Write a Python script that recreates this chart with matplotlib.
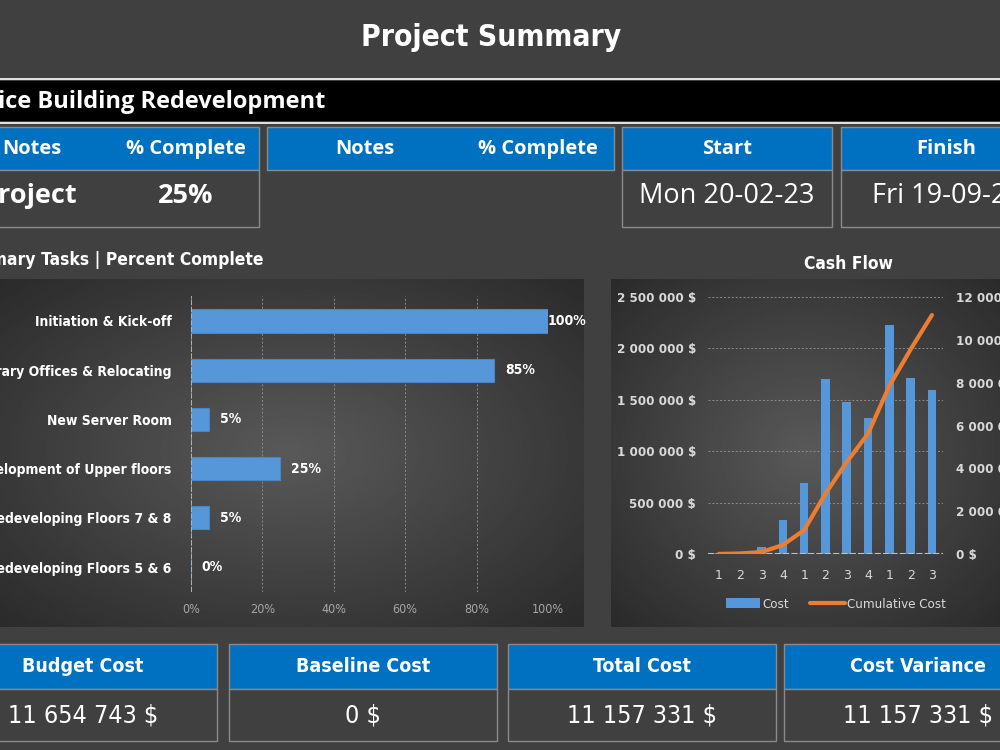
import numpy as np
import matplotlib.pyplot as plt
from matplotlib.patches import Rectangle
from matplotlib.ticker import FuncFormatter

# --- data ---
project_name = "Office Building Redevelopment"
pct_complete = "25%"
start_date = "Mon 20-02-23"
finish_date = "Fri 19-09-25"

tasks = ["Initiation & Kick-off", "Temporary Offices & Relocating", "New Server Room",
         "Redevelopment of Upper floors", "Redeveloping Floors 7 & 8",
         "Redeveloping Floors 5 & 6"]
task_pct = [1.00, 0.85, 0.05, 0.25, 0.05, 0.00]

quarters = ["1", "2", "3", "4", "1", "2", "3", "4", "1", "2", "3"]
cost = [5000, 20000, 65000, 330000, 695000, 1700000, 1480000, 1325000,
        2225000, 1712000, 1600000]
cum_cost = [5000, 25000, 90000, 420000, 1115000, 2815000, 4295000, 5620000,
            7845000, 9557000, 11157000]

cost_labels = ["Budget Cost", "Baseline Cost", "Total Cost", "Cost Variance"]
cost_values = ["11 654 743 $", "0 $", "11 157 331 $", "11 157 331 $"]

BG = '#404040'
BLUE = '#0070C0'
EDGE = '#8a8a8a'
NARROW = ['DejaVu Sans']
SEGOE = ['Open Sans', 'DejaVu Sans']
COND = 'condensed'

W, H = 1000, 750
fig = plt.figure(figsize=(10, 7.5), dpi=100, facecolor=BG)


def px(x0, y0, x1, y1):
    return [x0 / W, 1 - y1 / H, (x1 - x0) / W, (y1 - y0) / H]


# overlay in pixel coordinates
ov = fig.add_axes([0, 0, 1, 1], zorder=0)
ov.set_xlim(0, W)
ov.set_ylim(H, 0)
ov.axis('off')


def box(x0, y0, x1, y1, fc, ec=EDGE, lw=1.0, z=1):
    ov.add_patch(Rectangle((x0, y0), x1 - x0, y1 - y0, fc=fc, ec=ec, lw=lw, zorder=z))


def txt(x, y, s, size, weight='normal', ha='center', family=SEGOE, color='white',
        stretch='normal'):
    ov.text(x, y, s, fontsize=size, fontweight=weight, ha=ha, va='center',
            family=family, color=color, zorder=5, fontstretch=stretch)


# title
txt(491, 37, "Project Summary", 21.5, 'bold', family=NARROW, stretch=COND)

# project name band
ov.plot([0, W], [78.5, 78.5], color='white', lw=1.2, zorder=2)
box(-5, 81, W + 5, 121, 'black', ec='none')
ov.plot([0, W], [123, 123], color='white', lw=1.2, zorder=2)
txt(325, 102, project_name, 17, 'bold', ha='right')

# top info boxes
box(-5, 127, 259, 170, BLUE)
box(-5, 170, 259, 227, BG)
txt(32, 149, "Notes", 14.5, 'bold')
txt(186, 149, "% Complete", 14.5, 'bold')
txt(77, 196, "Project", 19.5, 'bold', ha='right')
txt(186, 196, pct_complete, 19.5, 'bold')

box(267, 127, 614, 170, BLUE)
txt(365, 149, "Notes", 14.5, 'bold')
txt(538, 149, "% Complete", 14.5, 'bold')

box(622, 127, 832, 170, BLUE)
box(622, 170, 832, 227, BG)
txt(727, 149, "Start", 14.5, 'bold')
txt(727, 196, start_date, 19.5)

box(841, 127, W + 5, 170, BLUE)
box(841, 170, W + 5, 227, BG)
txt(946, 149, "Finish", 14.5, 'bold')
txt(872, 196, finish_date, 19.5, ha='left')

# chart titles
txt(263, 260, "Summary Tasks | Percent Complete", 12.5, 'bold', ha='right',
    family=NARROW, stretch=COND)
txt(848, 264, "Cash Flow", 12.5, 'bold', family=NARROW, stretch=COND)


def gradient_panel(rect):
    ax = fig.add_axes(px(*rect), zorder=1)
    yy, xx = np.mgrid[-1:1:200j, -1:1:300j]
    r = np.sqrt(xx ** 2 + yy ** 2)
    shade = np.clip(0.35 - 0.13 * r, 0, 1)
    ax.imshow(shade, cmap='gray', vmin=0, vmax=1, aspect='auto',
              extent=[0, 1, 0, 1], interpolation='bilinear')
    ax.axis('off')
    return ax


gradient_panel((-5, 279, 584, 627))
gradient_panel((611, 279, W + 5, 627))

# --- percent complete bar chart ---
ax1 = fig.add_axes(px(191, 296.4, 548, 591.6), zorder=2)
ax1.patch.set_alpha(0)
ypos = np.arange(len(tasks))
ax1.barh(ypos, task_pct, height=0.47, color='#5597D9', edgecolor='#4a86c5', lw=0.8)
ax1.set_xlim(0, 1)
ax1.set_ylim(len(tasks) - 0.5, -0.5)
ax1.set_xticks(np.arange(0, 1.01, 0.2))
ax1.xaxis.set_major_formatter(FuncFormatter(lambda v, p: f"{v:.0%}"))
ax1.set_yticks(ypos)
ax1.set_yticklabels(tasks)
ax1.grid(axis='x', color='#8c8c8c', ls=(0, (2, 2)), lw=0.7)
ax1.set_axisbelow(True)
for s in ax1.spines.values():
    s.set_visible(False)
ax1.axvline(0, color='#bfbfbf', lw=1.2, ls=(0, (3, 1)))
ax1.tick_params(axis='both', length=0)
ax1.tick_params(axis='x', colors='#a6a6a6', labelsize=9, pad=8)
ax1.tick_params(axis='y', colors='white', pad=14)
for lab in ax1.get_yticklabels():
    lab.set_family(NARROW)
    lab.set_fontstretch(COND)
    lab.set_fontweight('bold')
    lab.set_fontsize(10)
for lab in ax1.get_xticklabels():
    lab.set_family(NARROW)
    lab.set_fontstretch(COND)
for i, v in enumerate(task_pct):
    off = 0.0 if v >= 1 else 0.03
    ax1.text(v + off, i, f"{v:.0%}", va='center', ha='left', color='white',
             fontsize=10, fontweight='bold', family=NARROW, fontstretch=COND,
             clip_on=False)

# --- cash flow chart ---
ax2 = fig.add_axes(px(708.3, 297, 942.6, 554), zorder=2)
ax2.patch.set_alpha(0)
xpos = np.arange(len(quarters))
bars = ax2.bar(xpos, cost, width=0.4, color='#5597D9', label='Cost')
ax2.set_xlim(-0.5, len(quarters) - 0.5)
ax2.set_ylim(0, 2500000)
ax2.set_yticks(np.arange(0, 2500001, 500000))
ax2.yaxis.set_major_formatter(FuncFormatter(
    lambda v, p: f"{int(v):,} $".replace(',', ' ')))
ax2.set_xticks(xpos)
ax2.set_xticklabels(quarters)
ax2.grid(axis='y', color='#8c8c8c', ls=(0, (2, 2)), lw=0.7)
ax2.set_axisbelow(True)
for s in ax2.spines.values():
    s.set_visible(False)
ax2.axhline(0, color='#bfbfbf', lw=1.5, ls=(0, (3, 1)))
ax2.tick_params(axis='both', length=0)
ax2.tick_params(axis='x', colors='#d9d9d9', labelsize=9, pad=11)
ax2.tick_params(axis='y', colors='#d9d9d9', labelsize=9.5, pad=9)
for lab in ax2.get_yticklabels():
    lab.set_family(NARROW)
    lab.set_fontstretch(COND)
    lab.set_fontweight('bold')

ax3 = ax2.twinx()
ax3.set_zorder(3)
line, = ax3.plot(xpos, cum_cost, color='#ED7D31', lw=3, label='Cumulative Cost',
                 solid_capstyle='round')
ax3.set_ylim(0, 12000000)
ax3.set_yticks(np.arange(0, 12000001, 2000000))
ax3.yaxis.set_major_formatter(FuncFormatter(
    lambda v, p: f"{int(v):,} $".replace(',', ' ')))
for s in ax3.spines.values():
    s.set_visible(False)
ax3.tick_params(axis='y', length=0, colors='#d9d9d9', labelsize=9.5, pad=10)
for lab in ax3.get_yticklabels():
    lab.set_family(NARROW)
    lab.set_fontstretch(COND)
    lab.set_fontweight('bold')

leg = ax2.legend([bars, line], ['Cost', 'Cumulative Cost'], loc='center',
                 bbox_to_anchor=(0.545, -0.195), ncol=2, frameon=False,
                 fontsize=9.5, labelcolor='#d9d9d9', handlelength=2.6,
                 handletextpad=0.2, columnspacing=1.6)
for t in leg.get_texts():
    t.set_family(NARROW)
    t.set_fontstretch(COND)

# --- bottom cost boxes ---
cost_boxes = [(-5, 217), (229, 497), (508, 776), (784, W + 5)]
cost_centers = [83, 363, 642, 918]
for (x0, x1), cx, lab, val in zip(cost_boxes, cost_centers, cost_labels, cost_values):
    box(x0, 644, x1, 689, BLUE)
    box(x0, 689, x1, 741, BG)
    txt(cx, 666, lab, 14, 'bold', family=NARROW, stretch=COND)
    txt(cx, 715, val, 18, family=NARROW, stretch=COND)

fig.savefig('out.png', dpi=100, facecolor=BG)
